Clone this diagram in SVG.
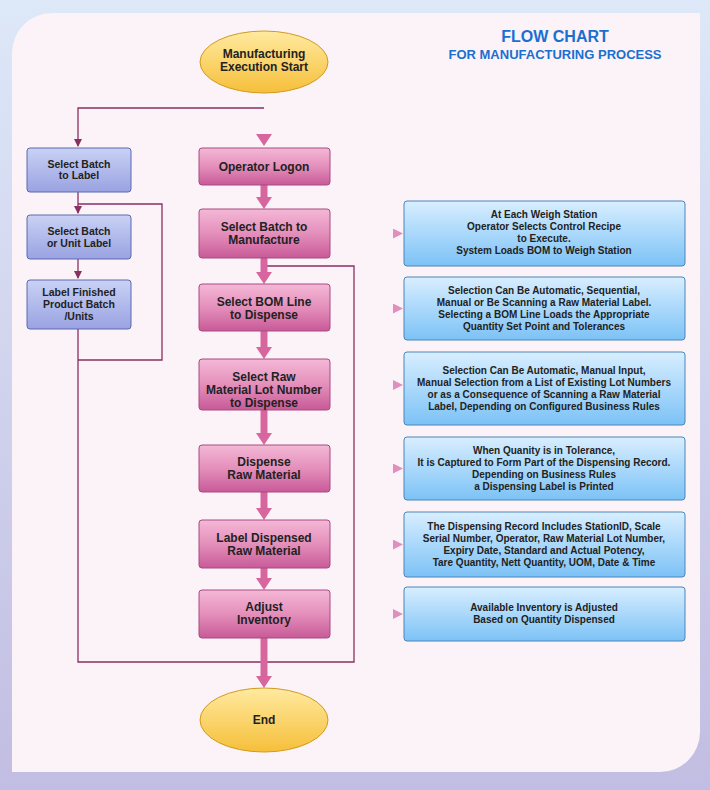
<svg xmlns="http://www.w3.org/2000/svg" width="710" height="790" viewBox="0 0 710 790">
<defs>
<linearGradient id="bg" x1="0" y1="0" x2="0" y2="1"><stop offset="0" stop-color="#dde8f8"/><stop offset="1" stop-color="#c2bde2"/></linearGradient>
<linearGradient id="pink" x1="0" y1="0" x2="0" y2="1"><stop offset="0" stop-color="#f4b8d6"/><stop offset="0.5" stop-color="#e48fbb"/><stop offset="1" stop-color="#c85a98"/></linearGradient>
<linearGradient id="lav" x1="0" y1="0" x2="0" y2="1"><stop offset="0" stop-color="#c9d2f4"/><stop offset="1" stop-color="#9aa2e2"/></linearGradient>
<linearGradient id="blue" x1="0" y1="0" x2="0" y2="1"><stop offset="0" stop-color="#d8eeff"/><stop offset="1" stop-color="#7cc2f6"/></linearGradient>
<linearGradient id="yel" x1="0" y1="0" x2="0" y2="1"><stop offset="0" stop-color="#ffeaa0"/><stop offset="1" stop-color="#f6bf3a"/></linearGradient>
<linearGradient id="conn" x1="0" y1="0" x2="1" y2="0"><stop offset="0" stop-color="#3aa6e8"/><stop offset="1" stop-color="#e08fbf"/></linearGradient>
<linearGradient id="trunk" x1="0" y1="0" x2="0" y2="1"><stop offset="0" stop-color="#e88c5a"/><stop offset="1" stop-color="#d8669e"/></linearGradient>
<marker id="big" markerWidth="4" markerHeight="3" refX="2" refY="1.5" orient="auto" markerUnits="strokeWidth"><path d="M0,0 L3.4,1.5 L0,3z" fill="#d8669e" transform="translate(-1.4,0)"/></marker>
<marker id="sm" markerWidth="8" markerHeight="8" refX="7" refY="4" orient="auto" markerUnits="userSpaceOnUse"><path d="M0,0 L8,4 L0,8z" fill="#8a2f62"/></marker>
<marker id="bl" markerWidth="10" markerHeight="10" refX="9" refY="5" orient="auto" markerUnits="userSpaceOnUse"><path d="M0,0 L10,5 L0,10z" fill="#e08fbf"/></marker>
</defs>
<style>
text{font-family:"Liberation Sans",Arial,sans-serif;font-weight:bold;fill:#222;text-anchor:middle}
.m{font-size:12px}.l{font-size:10.5px}.b{font-size:10px}
.pk{fill:url(#pink);stroke:#a84a82}.lv{fill:url(#lav);stroke:#5a6ab0}.bx{fill:url(#blue);stroke:#4a86b8}.el{fill:url(#yel);stroke:#d09a20}
.thin{fill:none;stroke:#8a2f62;stroke-width:1.3}
.th{fill:none;stroke:#d8669e;stroke-width:7}
.bc{fill:none;stroke:url(#conn);stroke-width:4}
</style>
<rect width="710" height="790" fill="url(#bg)"/>
<path d="M52,13 H700 V732 A40,40 0 0 1 660,772 H12 V53 A40,40 0 0 1 52,13Z" fill="#fbf3f8"/>
<text x="555" y="42" style="font-size:16px;fill:#1a6fd0">FLOW CHART</text>
<text x="555" y="59" style="font-size:13px;fill:#1a6fd0">FOR MANUFACTURING PROCESS</text>
<g id="connectors">
<path class="thin" d="M264,108 H78 V146" marker-end="url(#sm)"/>
<path class="thin" d="M78,192 V213" marker-end="url(#sm)"/>
<path class="thin" d="M78,259 V278" marker-end="url(#sm)"/>
<path class="thin" d="M78,204 H162 V360 H78"/>
<path class="thin" d="M78,329 V662 H354 V266 H264"/>
<line x1="264" y1="93" x2="264" y2="134" stroke="url(#trunk)" stroke-width="7"/>
<path d="M256,134 L264,146 L272,134z" fill="#d8669e"/>
<path class="th" d="M264,185 V197"/><path d="M256,197 L264,209 L272,197z" fill="#d8669e"/>
<path class="th" d="M264,258 V272"/><path d="M256,272 L264,284 L272,272z" fill="#d8669e"/>
<path class="th" d="M264,331 V347"/><path d="M256,347 L264,359 L272,347z" fill="#d8669e"/>
<path class="th" d="M264,410 V433"/><path d="M256,433 L264,445 L272,433z" fill="#d8669e"/>
<path class="th" d="M264,492 V508"/><path d="M256,508 L264,520 L272,508z" fill="#d8669e"/>
<path class="th" d="M264,568 V578"/><path d="M256,578 L264,590 L272,578z" fill="#d8669e"/>
<path class="th" d="M264,638 V676"/><path d="M256,676 L264,688 L272,676z" fill="#d8669e"/>
<path class="bc" d="M330,233.5 H402" marker-end="url(#bl)"/>
<path class="bc" d="M330,308.5 H402" marker-end="url(#bl)"/>
<path class="bc" d="M330,385 H402" marker-end="url(#bl)"/>
<path class="bc" d="M330,468.5 H402" marker-end="url(#bl)"/>
<path class="bc" d="M330,544.5 H402" marker-end="url(#bl)"/>
<path class="bc" d="M330,614 H402" marker-end="url(#bl)"/>
</g>
<g id="start"><ellipse class="el" cx="264" cy="62" rx="64" ry="31"/><text class="m" x="264" y="58">Manufacturing</text><text class="m" x="264" y="71">Execution Start</text></g>
<g id="n1"><rect class="pk" x="199" y="148" width="131" height="37" rx="3"/><text class="m" x="264" y="171">Operator Logon</text></g>
<g id="n2"><rect class="pk" x="199" y="209" width="131" height="49" rx="3"/><text class="m" x="264" y="231">Select Batch to</text><text class="m" x="264" y="244">Manufacture</text></g>
<g id="n3"><rect class="pk" x="199" y="284" width="131" height="47" rx="3"/><text class="m" x="264" y="306">Select BOM Line</text><text class="m" x="264" y="319">to Dispense</text></g>
<g id="n4"><rect class="pk" x="199" y="359" width="131" height="51" rx="3"/><text class="m" x="264" y="381">Select Raw</text><text class="m" x="264" y="394">Material Lot Number</text><text class="m" x="264" y="407">to Dispense</text></g>
<g id="n5"><rect class="pk" x="199" y="445" width="131" height="47" rx="3"/><text class="m" x="264" y="466">Dispense</text><text class="m" x="264" y="479">Raw Material</text></g>
<g id="n6"><rect class="pk" x="199" y="520" width="131" height="48" rx="3"/><text class="m" x="264" y="542">Label Dispensed</text><text class="m" x="264" y="555">Raw Material</text></g>
<g id="n7"><rect class="pk" x="199" y="590" width="131" height="48" rx="3"/><text class="m" x="264" y="611">Adjust</text><text class="m" x="264" y="624">Inventory</text></g>
<g id="end"><ellipse class="el" cx="264" cy="720" rx="64" ry="32"/><text class="m" x="264" y="724">End</text></g>
<g id="l1"><rect class="lv" x="27" y="148" width="104" height="44" rx="3"/><text class="l" x="79" y="168">Select Batch</text><text class="l" x="79" y="179">to Label</text></g>
<g id="l2"><rect class="lv" x="27" y="215" width="104" height="44" rx="3"/><text class="l" x="79" y="235">Select Batch</text><text class="l" x="79" y="247">or Unit Label</text></g>
<g id="l3"><rect class="lv" x="27" y="280" width="104" height="49" rx="3"/><text class="l" x="79" y="296">Label Finished</text><text class="l" x="79" y="308">Product Batch</text><text class="l" x="79" y="320">/Units</text></g>
<g id="r1"><rect class="bx" x="404" y="201" width="281" height="65" rx="3"/><text class="b" x="544" y="218">At Each Weigh Station</text><text class="b" x="544" y="230">Operator Selects Control Recipe</text><text class="b" x="544" y="242">to Execute.</text><text class="b" x="544" y="254">System Loads BOM to Weigh Station</text></g>
<g id="r2"><rect class="bx" x="404" y="277" width="281" height="63" rx="3"/><text class="b" x="544" y="294">Selection Can Be Automatic, Sequential,</text><text class="b" x="544" y="306">Manual or Be Scanning a Raw Material Label.</text><text class="b" x="544" y="318">Selecting a BOM Line Loads the Appropriate</text><text class="b" x="544" y="330">Quantity Set Point and Tolerances</text></g>
<g id="r3"><rect class="bx" x="404" y="352" width="281" height="73" rx="3"/><text class="b" x="544" y="374">Selection Can Be Automatic, Manual Input,</text><text class="b" x="544" y="386">Manual Selection from a List of Existing Lot Numbers</text><text class="b" x="544" y="398">or as a Consequence of Scanning a Raw Material</text><text class="b" x="544" y="410">Label, Depending on Configured Business Rules</text></g>
<g id="r4"><rect class="bx" x="404" y="437" width="281" height="63" rx="3"/><text class="b" x="544" y="454">When Quanity is in Tolerance,</text><text class="b" x="544" y="466">It is Captured to Form Part of the Dispensing Record.</text><text class="b" x="544" y="478">Depending on Business Rules</text><text class="b" x="544" y="490">a Dispensing Label is Printed</text></g>
<g id="r5"><rect class="bx" x="404" y="512" width="281" height="65" rx="3"/><text class="b" x="544" y="530">The Dispensing Record Includes StationID, Scale</text><text class="b" x="544" y="542">Serial Number, Operator, Raw Material Lot Number,</text><text class="b" x="544" y="554">Expiry Date, Standard and Actual Potency,</text><text class="b" x="544" y="566">Tare Quantity, Nett Quantity, UOM, Date &amp; Time</text></g>
<g id="r6"><rect class="bx" x="404" y="587" width="281" height="54" rx="3"/><text class="b" x="544" y="611">Available Inventory is Adjusted</text><text class="b" x="544" y="623">Based on Quantity Dispensed</text></g>
</svg>
